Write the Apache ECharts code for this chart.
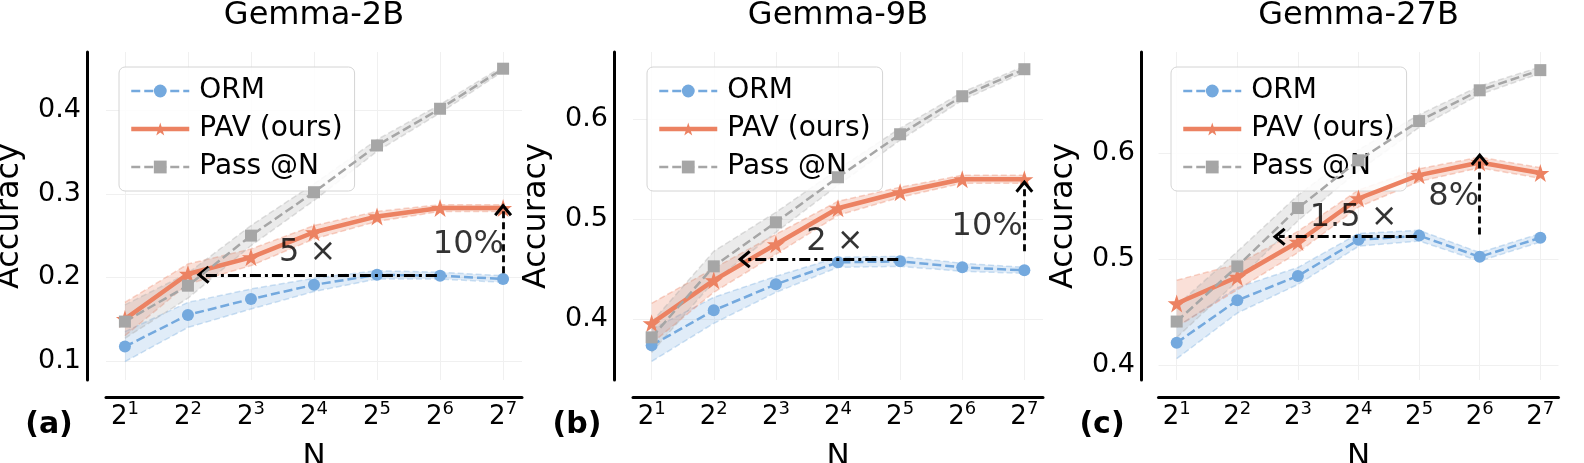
<!DOCTYPE html>
<html>
<head>
<meta charset="utf-8">
<script src="https://cdn.jsdelivr.net/npm/echarts@6/dist/echarts.min.js"></script>
<style>
    html, body { margin: 0; padding: 0; background: #fff; }
    #chart { width: 1584px; height: 463px; }
</style>
</head>
<body>
<div id="chart"></div>
<script>
    // N = 2^k
    const powers = [1, 2, 3, 4, 5, 6, 7];
    const titles = ['Gemma-2B', 'Gemma-9B', 'Gemma-27B'];
    const panelTags = ['(a)', '(b)', '(c)'];
    const seriesNames = ['ORM', 'PAV (ours)', 'Pass @N'];

    // Gemma-2B
    const ormA = [0.117, 0.155, 0.174, 0.191, 0.203, 0.202, 0.198];
    const pavA = [0.150, 0.204, 0.224, 0.254, 0.273, 0.283, 0.283];
    const passA = [0.147, 0.190, 0.250, 0.302, 0.358, 0.402, 0.450];
    const ormSpreadA = [0.018, 0.015, 0.012, 0.008, 0.005, 0.004, 0.004];
    const pavSpreadA = [0.020, 0.012, 0.010, 0.008, 0.006, 0.004, 0.004];
    const passSpreadA = [0.020, 0.015, 0.012, 0.010, 0.007, 0.005, 0.003];

    // Gemma-9B
    const ormB = [0.374, 0.409, 0.435, 0.457, 0.458, 0.452, 0.449];
    const pavB = [0.396, 0.439, 0.475, 0.511, 0.527, 0.540, 0.540];
    const passB = [0.382, 0.453, 0.497, 0.542, 0.585, 0.623, 0.650];
    const ormSpreadB = [0.016, 0.013, 0.008, 0.005, 0.005, 0.004, 0.003];
    const pavSpreadB = [0.020, 0.012, 0.010, 0.007, 0.005, 0.004, 0.004];
    const passSpreadB = [0.015, 0.015, 0.010, 0.008, 0.006, 0.004, 0.003];

    // Gemma-27B
    const ormC = [0.421, 0.461, 0.484, 0.518, 0.522, 0.502, 0.520];
    const pavC = [0.458, 0.483, 0.516, 0.557, 0.579, 0.591, 0.581];
    const passC = [0.441, 0.493, 0.548, 0.593, 0.630, 0.659, 0.678];
    const ormSpreadC = [0.015, 0.012, 0.008, 0.006, 0.005, 0.004, 0.004];
    const pavSpreadC = [0.022, 0.012, 0.010, 0.008, 0.006, 0.005, 0.005];
    const passSpreadC = [0.015, 0.014, 0.012, 0.010, 0.006, 0.004, 0.003];

    const yTicksA = [0.1, 0.2, 0.3, 0.4];
    const yTicksB = [0.4, 0.5, 0.6];
    const yTicksC = [0.4, 0.5, 0.6];

    // annotation arrows: [fromX, fromY, toX, toY] in (log2 N, accuracy)
    const hArrows = [[5.95, 0.203, 2.24, 0.203], [4.97, 0.460, 2.49, 0.460], [4.96, 0.521, 2.69, 0.521]];
    const vArrows = [[7, 0.205, 7, 0.281], [7, 0.468, 7, 0.533], [6, 0.523, 6, 0.594]];
    const hTexts = [['5 ×', 3.90, 0.229], ['2 ×', 3.95, 0.4775], ['1.5 ×', 3.92, 0.539]];
    const vTexts = [['10%', 6.45, 0.239], ['10%', 6.40, 0.4925], ['8%', 5.57, 0.5587]];

    const panels = [
        { orm: ormA, pav: pavA, pass: passA, spreads: [ormSpreadA, pavSpreadA, passSpreadA], yTicks: yTicksA, yMin: 0.077, yMax: 0.470 },
        { orm: ormB, pav: pavB, pass: passB, spreads: [ormSpreadB, pavSpreadB, passSpreadB], yTicks: yTicksB, yMin: 0.3394, yMax: 0.6672 },
        { orm: ormC, pav: pavC, pass: passC, spreads: [ormSpreadC, pavSpreadC, passSpreadC], yTicks: yTicksC, yMin: 0.3859, yMax: 0.6951 }
    ];

    const FONT = 'DejaVu Sans';
    const colors = ['#74a9de', '#ec8262', '#a6a6a6'];
    const bandFill = ['rgba(116,169,222,0.22)', 'rgba(236,130,98,0.25)', 'rgba(166,166,166,0.22)'];
    const bandEdge = ['rgba(116,169,222,0.35)', 'rgba(236,130,98,0.35)', 'rgba(166,166,166,0.35)'];
    const chevron = 'path://M0,11 L10,0 L20,11 L17.5,13 L10,5 L2.5,13 Z';
    const star = 'path://M50,0 L61.8,35.3 L99,35.3 L69,57.3 L80.4,92.7 L50,70.8 L19.6,92.7 L31,57.3 L1,35.3 L38.2,35.3 Z';

    const layout = [
        { left: 106, width: 416, yOffset: 19, legendLeft: 119, tagX: 49 },
        { left: 633, width: 410, yOffset: 19, legendLeft: 647, tagX: 577 },
        { left: 1158.5, width: 400, yOffset: 17.5, legendLeft: 1171, tagX: 1102 }
    ];

    const chart = echarts.init(document.getElementById('chart'));

    let grids = [], xAxes = [], yAxes = [], legends = [], series = [], graphics = [];

    function bandSeries(i, k, vals, spread) {
        return {
            type: 'custom', name: 'band' + i + k, xAxisIndex: i, yAxisIndex: i, z: 1, silent: true,
            data: vals.map((v, j) => [powers[j], v - spread[j], v + spread[j]]),
            encode: { x: 0, y: [1, 2] },
            renderItem: (params, api) => {
                if (params.dataIndex !== 0) return null;
                const upper = vals.map((v, j) => api.coord([powers[j], v + spread[j]]));
                const lower = vals.map((v, j) => api.coord([powers[j], v - spread[j]]));
                const edge = { stroke: bandEdge[k], lineWidth: 1.5, lineDash: [6, 3], fill: null };
                return {
                    type: 'group',
                    children: [
                        { type: 'polygon', shape: { points: upper.concat(lower.slice().reverse()) }, style: { fill: bandFill[k] } },
                        { type: 'polyline', shape: { points: upper }, style: edge },
                        { type: 'polyline', shape: { points: lower }, style: edge }
                    ]
                };
            }
        };
    }

    panels.forEach((p, i) => {
        const L = layout[i];
        grids.push({ left: L.left, top: 52, width: L.width, height: 328, outerBoundsMode: 'none', containLabel: false });

        xAxes.push({
            gridIndex: i, type: 'value', min: 0.7, max: 7.3, offset: 17,
            name: 'N', nameLocation: 'middle', nameGap: 44,
            nameTextStyle: { fontSize: 31, fontFamily: FONT, color: '#000' },
            axisLine: { lineStyle: { color: '#000', width: 3 } },
            axisTick: { show: false, customValues: powers },
            axisLabel: {
                customValues: powers, margin: 3,
                formatter: v => '{b|2}{s|' + v + '}',
                rich: {
                    b: { fontSize: 26, fontFamily: FONT, color: '#000', verticalAlign: 'bottom', lineHeight: 30 },
                    s: { fontSize: 18, fontFamily: FONT, color: '#000', verticalAlign: 'top', lineHeight: 30 }
                }
            },
            splitLine: { show: true, lineStyle: { color: '#f0f0f0', width: 1 } }
        });

        yAxes.push({
            gridIndex: i, type: 'value', min: p.yMin, max: p.yMax, offset: L.yOffset,
            name: 'Accuracy', nameLocation: 'middle', nameGap: 61,
            nameTextStyle: { fontSize: 32, fontFamily: FONT, color: '#000' },
            axisLine: { show: true, lineStyle: { color: '#000', width: 3 } },
            axisTick: { show: false, customValues: p.yTicks },
            axisLabel: {
                customValues: p.yTicks, margin: 6,
                fontSize: 27, fontFamily: FONT, color: '#000',
                formatter: v => v.toFixed(1)
            },
            splitLine: { show: true, lineStyle: { color: '#f0f0f0', width: 1 } }
        });

        legends.push({
            data: seriesNames, orient: 'vertical', left: L.legendLeft, top: 67,
            itemWidth: 58, itemHeight: 16, itemGap: 10,
            padding: [10, 12, 10, 10],
            backgroundColor: 'rgba(255,255,255,0.85)',
            borderColor: '#d4d4d4', borderWidth: 1, borderRadius: 6,
            lineStyle: { width: 'inherit', type: 'inherit' },
            textStyle: { fontSize: 28, fontFamily: FONT, color: '#000', padding: [0, 0, 0, 5] },
            selectedMode: false
        });

        const values = [p.orm, p.pav, p.pass];
        values.forEach((vals, k) => series.push(bandSeries(i, k, vals, p.spreads[k])));

        series.push({
            type: 'line', name: 'ORM', xAxisIndex: i, yAxisIndex: i, z: 3,
            symbol: 'circle', symbolSize: 12,
            itemStyle: { color: colors[0] },
            lineStyle: { color: colors[0], width: 2.5, type: [9, 4] },
            data: p.orm.map((v, j) => [powers[j], v])
        });
        series.push({
            type: 'line', name: 'PAV (ours)', xAxisIndex: i, yAxisIndex: i, z: 4,
            symbol: star, symbolSize: 18,
            itemStyle: { color: colors[1] },
            lineStyle: { color: colors[1], width: 4.5 },
            data: p.pav.map((v, j) => [powers[j], v])
        });
        series.push({
            type: 'line', name: 'Pass @N', xAxisIndex: i, yAxisIndex: i, z: 5,
            symbol: 'rect', symbolSize: 12,
            itemStyle: { color: colors[2] },
            lineStyle: { color: colors[2], width: 2.5, type: [9, 4] },
            data: p.pass.map((v, j) => [powers[j], v])
        });

        // annotations
        const h = hArrows[i], vv = vArrows[i];
        series.push({
            type: 'scatter', name: 'note' + i, xAxisIndex: i, yAxisIndex: i, z: 10,
            symbolSize: 0, silent: true,
            label: {
                show: true, position: 'inside', fontSize: 32, fontFamily: FONT, color: '#000',
                formatter: d => d.data[2]
            },
            data: [[hTexts[i][1], hTexts[i][2], hTexts[i][0]], [vTexts[i][1], vTexts[i][2], vTexts[i][0]]],
            markLine: {
                silent: true, animation: false,
                symbol: ['none', chevron], symbolSize: [18, 13],
                label: { show: false },
                lineStyle: { color: '#000', width: 2.8, opacity: 1 },
                data: [
                    [{ coord: [h[0], h[1]], lineStyle: { type: [11, 4, 3, 4] } }, { coord: [h[2], h[3]] }],
                    [{ coord: [vv[0], vv[1]], lineStyle: { type: [7, 4] } }, { coord: [vv[2], vv[3]] }]
                ]
            }
        });

        graphics.push({
            type: 'text', x: L.left + L.width / 2, y: 16,
            style: { text: titles[i], font: '32px "DejaVu Sans"', fill: '#000', align: 'center', verticalAlign: 'middle' }
        });
        graphics.push({
            type: 'text', x: L.tagX, y: 425,
            style: { text: panelTags[i], font: 'bold 30px "DejaVu Sans"', fill: '#000', align: 'center', verticalAlign: 'middle' }
        });
    });

    chart.setOption({
        animation: false,
        grid: grids,
        xAxis: xAxes,
        yAxis: yAxes,
        legend: legends,
        series: series,
        graphic: graphics
    });
</script>
</body>
</html>
